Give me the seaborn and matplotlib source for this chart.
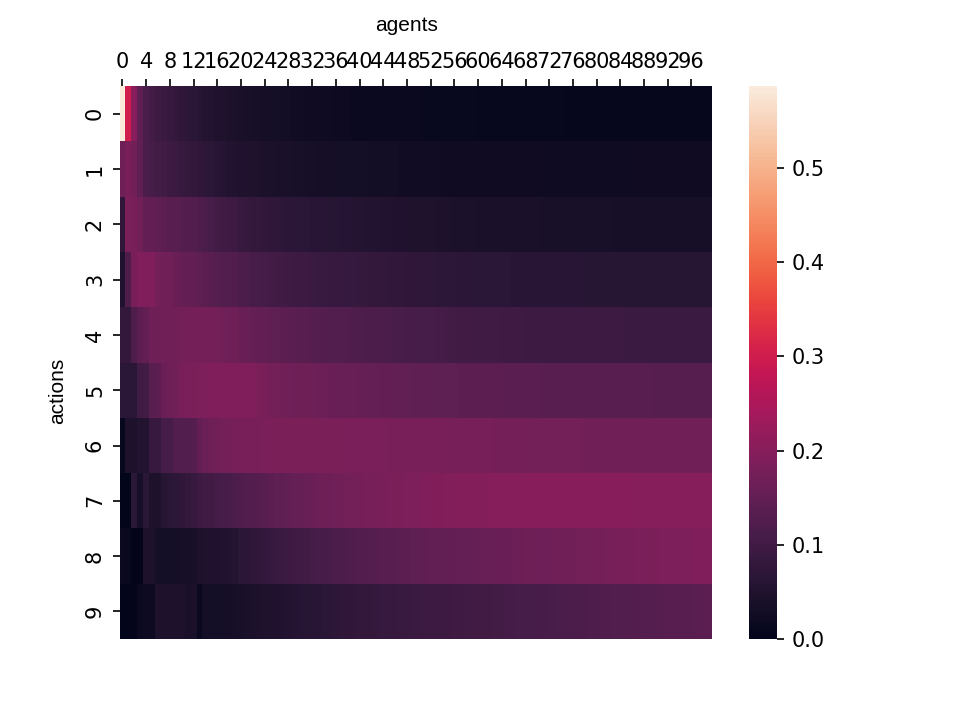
import numpy as np
import pandas as pd
import matplotlib
matplotlib.use("Agg")
import matplotlib.pyplot as plt
import seaborn as sns

agents = list(range(100))
actions = list(range(10))

action0 = [0.587, 0.30, 0.20, 0.145, 0.115, 0.105, 0.095, 0.09, 0.085, 0.08,
           0.075, 0.07, 0.065, 0.06, 0.057, 0.054, 0.05, 0.048, 0.045, 0.043,
           0.04, 0.038, 0.036, 0.035, 0.033, 0.032, 0.03, 0.029, 0.028, 0.027,
           0.026, 0.025, 0.024, 0.023, 0.022, 0.021, 0.02, 0.02, 0.019, 0.018,
           0.018, 0.017, 0.017, 0.016, 0.016, 0.015, 0.015, 0.015, 0.014, 0.014,
           0.014, 0.013, 0.013, 0.013, 0.013, 0.012, 0.012, 0.012, 0.012, 0.012,
           0.011, 0.011, 0.011, 0.011, 0.011, 0.011, 0.010, 0.010, 0.010, 0.010,
           0.010, 0.010, 0.010, 0.010, 0.010, 0.009, 0.009, 0.009, 0.009, 0.009,
           0.009, 0.009, 0.009, 0.009, 0.009, 0.009, 0.008, 0.008, 0.008, 0.008,
           0.008, 0.008, 0.008, 0.008, 0.008, 0.008, 0.008, 0.008, 0.008, 0.008]
action1 = [0.165, 0.18, 0.17, 0.145, 0.115, 0.11, 0.105, 0.1, 0.095, 0.09,
           0.086, 0.082, 0.078, 0.074, 0.07, 0.066, 0.062, 0.058, 0.055, 0.052,
           0.05, 0.048, 0.046, 0.045, 0.043, 0.042, 0.041, 0.04, 0.039, 0.038,
           0.037, 0.036, 0.035, 0.034, 0.034, 0.033, 0.032, 0.032, 0.031, 0.031,
           0.03, 0.03, 0.029, 0.029, 0.028, 0.028, 0.028, 0.027, 0.027, 0.027,
           0.026, 0.026, 0.026, 0.026, 0.025, 0.025, 0.025, 0.025, 0.025, 0.025,
           0.024, 0.024, 0.024, 0.024, 0.024, 0.023, 0.023, 0.023, 0.023, 0.023,
           0.023, 0.022, 0.022, 0.022, 0.022, 0.022, 0.022, 0.022, 0.022, 0.022,
           0.022, 0.022, 0.022, 0.022, 0.022, 0.022, 0.022, 0.023, 0.023, 0.023,
           0.023, 0.023, 0.024, 0.024, 0.024, 0.024, 0.024, 0.024, 0.024, 0.024]
action2 = [0.075, 0.185, 0.18, 0.17, 0.15, 0.15, 0.145, 0.14, 0.135, 0.135,
           0.13, 0.128, 0.125, 0.12, 0.115, 0.11, 0.105, 0.1, 0.097, 0.094,
           0.085, 0.082, 0.08, 0.078, 0.076, 0.074, 0.072, 0.07, 0.068, 0.067,
           0.066, 0.065, 0.064, 0.063, 0.062, 0.061, 0.06, 0.059, 0.058, 0.057,
           0.056, 0.055, 0.054, 0.053, 0.052, 0.051, 0.05, 0.05, 0.049, 0.048,
           0.047, 0.047, 0.046, 0.045, 0.045, 0.044, 0.043, 0.043, 0.042, 0.042,
           0.041, 0.041, 0.041, 0.040, 0.040, 0.040, 0.040, 0.039, 0.039, 0.039,
           0.039, 0.038, 0.038, 0.038, 0.038, 0.038, 0.037, 0.037, 0.037, 0.037,
           0.037, 0.037, 0.037, 0.036, 0.036, 0.036, 0.036, 0.036, 0.036, 0.036,
           0.036, 0.036, 0.036, 0.036, 0.036, 0.036, 0.036, 0.036, 0.036, 0.036]
action3 = [0.05, 0.12, 0.18, 0.19, 0.19, 0.19, 0.175, 0.17, 0.17, 0.16,
           0.155, 0.15, 0.15, 0.145, 0.14, 0.135, 0.13, 0.128, 0.125, 0.122,
           0.118, 0.115, 0.112, 0.11, 0.107, 0.105, 0.102, 0.1, 0.098, 0.096,
           0.094, 0.092, 0.09, 0.089, 0.088, 0.087, 0.086, 0.085, 0.084, 0.083,
           0.082, 0.081, 0.08, 0.079, 0.078, 0.077, 0.076, 0.076, 0.075, 0.074,
           0.073, 0.072, 0.072, 0.071, 0.07, 0.07, 0.069, 0.068, 0.068, 0.067,
           0.066, 0.066, 0.066, 0.065, 0.065, 0.065, 0.064, 0.064, 0.064, 0.063,
           0.063, 0.063, 0.063, 0.062, 0.062, 0.062, 0.062, 0.062, 0.061, 0.061,
           0.061, 0.061, 0.061, 0.061, 0.060, 0.060, 0.060, 0.060, 0.060, 0.060,
           0.060, 0.060, 0.060, 0.060, 0.060, 0.060, 0.060, 0.060, 0.060, 0.060]
action4 = [0.08, 0.08, 0.12, 0.14, 0.15, 0.165, 0.165, 0.17, 0.17, 0.17,
           0.172, 0.175, 0.175, 0.176, 0.176, 0.175, 0.172, 0.17, 0.167, 0.165,
           0.16, 0.157, 0.154, 0.151, 0.148, 0.146, 0.144, 0.142, 0.14, 0.138,
           0.136, 0.134, 0.132, 0.13, 0.128, 0.126, 0.125, 0.124, 0.122, 0.121,
           0.12, 0.119, 0.118, 0.117, 0.116, 0.115, 0.114, 0.113, 0.112, 0.111,
           0.11, 0.109, 0.108, 0.107, 0.106, 0.105, 0.104, 0.103, 0.102, 0.101,
           0.100, 0.100, 0.099, 0.099, 0.098, 0.098, 0.097, 0.097, 0.096, 0.096,
           0.096, 0.095, 0.095, 0.095, 0.094, 0.094, 0.094, 0.093, 0.093, 0.093,
           0.093, 0.092, 0.092, 0.092, 0.092, 0.091, 0.091, 0.091, 0.091, 0.091,
           0.090, 0.090, 0.090, 0.090, 0.090, 0.090, 0.090, 0.090, 0.090, 0.090]
action5 = [0.065, 0.065, 0.065, 0.10, 0.105, 0.135, 0.14, 0.16, 0.165, 0.17,
           0.18, 0.182, 0.185, 0.187, 0.188, 0.19, 0.19, 0.19, 0.19, 0.19,
           0.19, 0.19, 0.19, 0.185, 0.18, 0.175, 0.172, 0.17, 0.168, 0.166,
           0.165, 0.164, 0.163, 0.162, 0.161, 0.16, 0.159, 0.158, 0.157, 0.156,
           0.155, 0.154, 0.153, 0.152, 0.151, 0.15, 0.149, 0.148, 0.147, 0.146,
           0.146, 0.145, 0.145, 0.144, 0.144, 0.143, 0.143, 0.142, 0.142, 0.141,
           0.141, 0.141, 0.140, 0.140, 0.140, 0.139, 0.139, 0.139, 0.138, 0.138,
           0.138, 0.137, 0.137, 0.137, 0.136, 0.136, 0.136, 0.135, 0.135, 0.135,
           0.135, 0.134, 0.134, 0.134, 0.134, 0.133, 0.133, 0.133, 0.133, 0.133,
           0.132, 0.132, 0.132, 0.132, 0.132, 0.132, 0.132, 0.132, 0.132, 0.132]
action6 = [0.01, 0.045, 0.045, 0.055, 0.055, 0.085, 0.085, 0.11, 0.11, 0.125,
           0.125, 0.125, 0.13, 0.15, 0.16, 0.165, 0.17, 0.172, 0.175, 0.177,
           0.178, 0.18, 0.18, 0.18, 0.182, 0.183, 0.184, 0.185, 0.185, 0.185,
           0.185, 0.185, 0.185, 0.185, 0.185, 0.184, 0.184, 0.184, 0.183, 0.183,
           0.183, 0.183, 0.182, 0.182, 0.182, 0.181, 0.181, 0.181, 0.180, 0.180,
           0.180, 0.180, 0.179, 0.179, 0.179, 0.179, 0.178, 0.178, 0.178, 0.178,
           0.177, 0.177, 0.177, 0.176, 0.176, 0.176, 0.175, 0.175, 0.175, 0.174,
           0.174, 0.174, 0.173, 0.173, 0.173, 0.172, 0.172, 0.172, 0.171, 0.171,
           0.171, 0.171, 0.170, 0.170, 0.170, 0.170, 0.169, 0.169, 0.169, 0.169,
           0.169, 0.168, 0.168, 0.168, 0.168, 0.168, 0.168, 0.168, 0.168, 0.168]
action7 = [0.0, 0.0, 0.065, 0.035, 0.065, 0.045, 0.045, 0.06, 0.065, 0.07,
           0.075, 0.08, 0.085, 0.095, 0.1, 0.103, 0.106, 0.11, 0.113, 0.115,
           0.12, 0.124, 0.128, 0.132, 0.136, 0.14, 0.143, 0.146, 0.149, 0.152,
           0.155, 0.158, 0.16, 0.162, 0.164, 0.166, 0.168, 0.17, 0.172, 0.174,
           0.175, 0.177, 0.178, 0.18, 0.181, 0.182, 0.184, 0.185, 0.186, 0.187,
           0.188, 0.189, 0.19, 0.191, 0.192, 0.193, 0.194, 0.195, 0.195, 0.196,
           0.197, 0.197, 0.198, 0.198, 0.198, 0.199, 0.199, 0.199, 0.200, 0.200,
           0.200, 0.200, 0.200, 0.201, 0.201, 0.201, 0.201, 0.201, 0.201, 0.201,
           0.201, 0.200, 0.200, 0.200, 0.200, 0.200, 0.200, 0.199, 0.199, 0.199,
           0.199, 0.199, 0.198, 0.198, 0.198, 0.198, 0.198, 0.198, 0.198, 0.198]
action8 = [0.015, 0.012, 0.003, 0.003, 0.045, 0.045, 0.03, 0.03, 0.032, 0.034,
           0.035, 0.036, 0.038, 0.045, 0.047, 0.049, 0.05, 0.052, 0.054, 0.056,
           0.065, 0.068, 0.072, 0.076, 0.08, 0.084, 0.088, 0.091, 0.094, 0.097,
           0.1, 0.103, 0.106, 0.109, 0.112, 0.114, 0.117, 0.119, 0.121, 0.123,
           0.125, 0.127, 0.129, 0.131, 0.133, 0.135, 0.137, 0.139, 0.141, 0.143,
           0.145, 0.146, 0.147, 0.148, 0.149, 0.15, 0.151, 0.152, 0.153, 0.154,
           0.155, 0.156, 0.157, 0.158, 0.159, 0.160, 0.161, 0.162, 0.163, 0.164,
           0.165, 0.166, 0.167, 0.168, 0.169, 0.170, 0.171, 0.172, 0.173, 0.174,
           0.175, 0.176, 0.177, 0.178, 0.179, 0.180, 0.181, 0.182, 0.183, 0.184,
           0.185, 0.186, 0.186, 0.187, 0.187, 0.188, 0.188, 0.189, 0.189, 0.190]
action9 = [0.0, 0.002, 0.004, 0.015, 0.02, 0.02, 0.045, 0.045, 0.045, 0.045,
           0.045, 0.04, 0.04, 0.015, 0.03, 0.03, 0.03, 0.032, 0.034, 0.036,
           0.038, 0.04, 0.042, 0.044, 0.046, 0.048, 0.05, 0.052, 0.054, 0.056,
           0.058, 0.06, 0.062, 0.064, 0.066, 0.068, 0.07, 0.072, 0.074, 0.076,
           0.078, 0.079, 0.08, 0.082, 0.083, 0.085, 0.086, 0.088, 0.089, 0.09,
           0.091, 0.092, 0.093, 0.094, 0.095, 0.096, 0.097, 0.098, 0.099, 0.1,
           0.101, 0.102, 0.103, 0.104, 0.105, 0.106, 0.107, 0.108, 0.109, 0.110,
           0.111, 0.112, 0.113, 0.114, 0.115, 0.116, 0.117, 0.118, 0.119, 0.120,
           0.121, 0.122, 0.123, 0.124, 0.125, 0.126, 0.127, 0.128, 0.129, 0.130,
           0.131, 0.132, 0.133, 0.134, 0.135, 0.136, 0.137, 0.138, 0.139, 0.140]

rows = [action0, action1, action2, action3, action4,
        action5, action6, action7, action8, action9]
df = pd.DataFrame(rows, index=actions, columns=agents)

plt.rcParams["font.family"] = ["DejaVu Sans"]
fig, ax = plt.subplots(figsize=(956 / 150, 718 / 150), dpi=150)
sns.heatmap(df, ax=ax, cmap="rocket")
ax.xaxis.tick_top()
ax.xaxis.set_label_position("top")
plt.setp(ax.get_xticklabels(), rotation=0)
ax.set_xlabel("agents", fontfamily=["Liberation Sans", "DejaVu Sans"], fontsize=10)
ax.set_ylabel("actions", fontfamily=["Liberation Sans", "DejaVu Sans"], fontsize=10)
ax.xaxis.set_label_coords(0.485, 1.099)
ax.yaxis.set_label_coords(-0.088, 0.449)
fig.savefig("out.png", dpi=150)
